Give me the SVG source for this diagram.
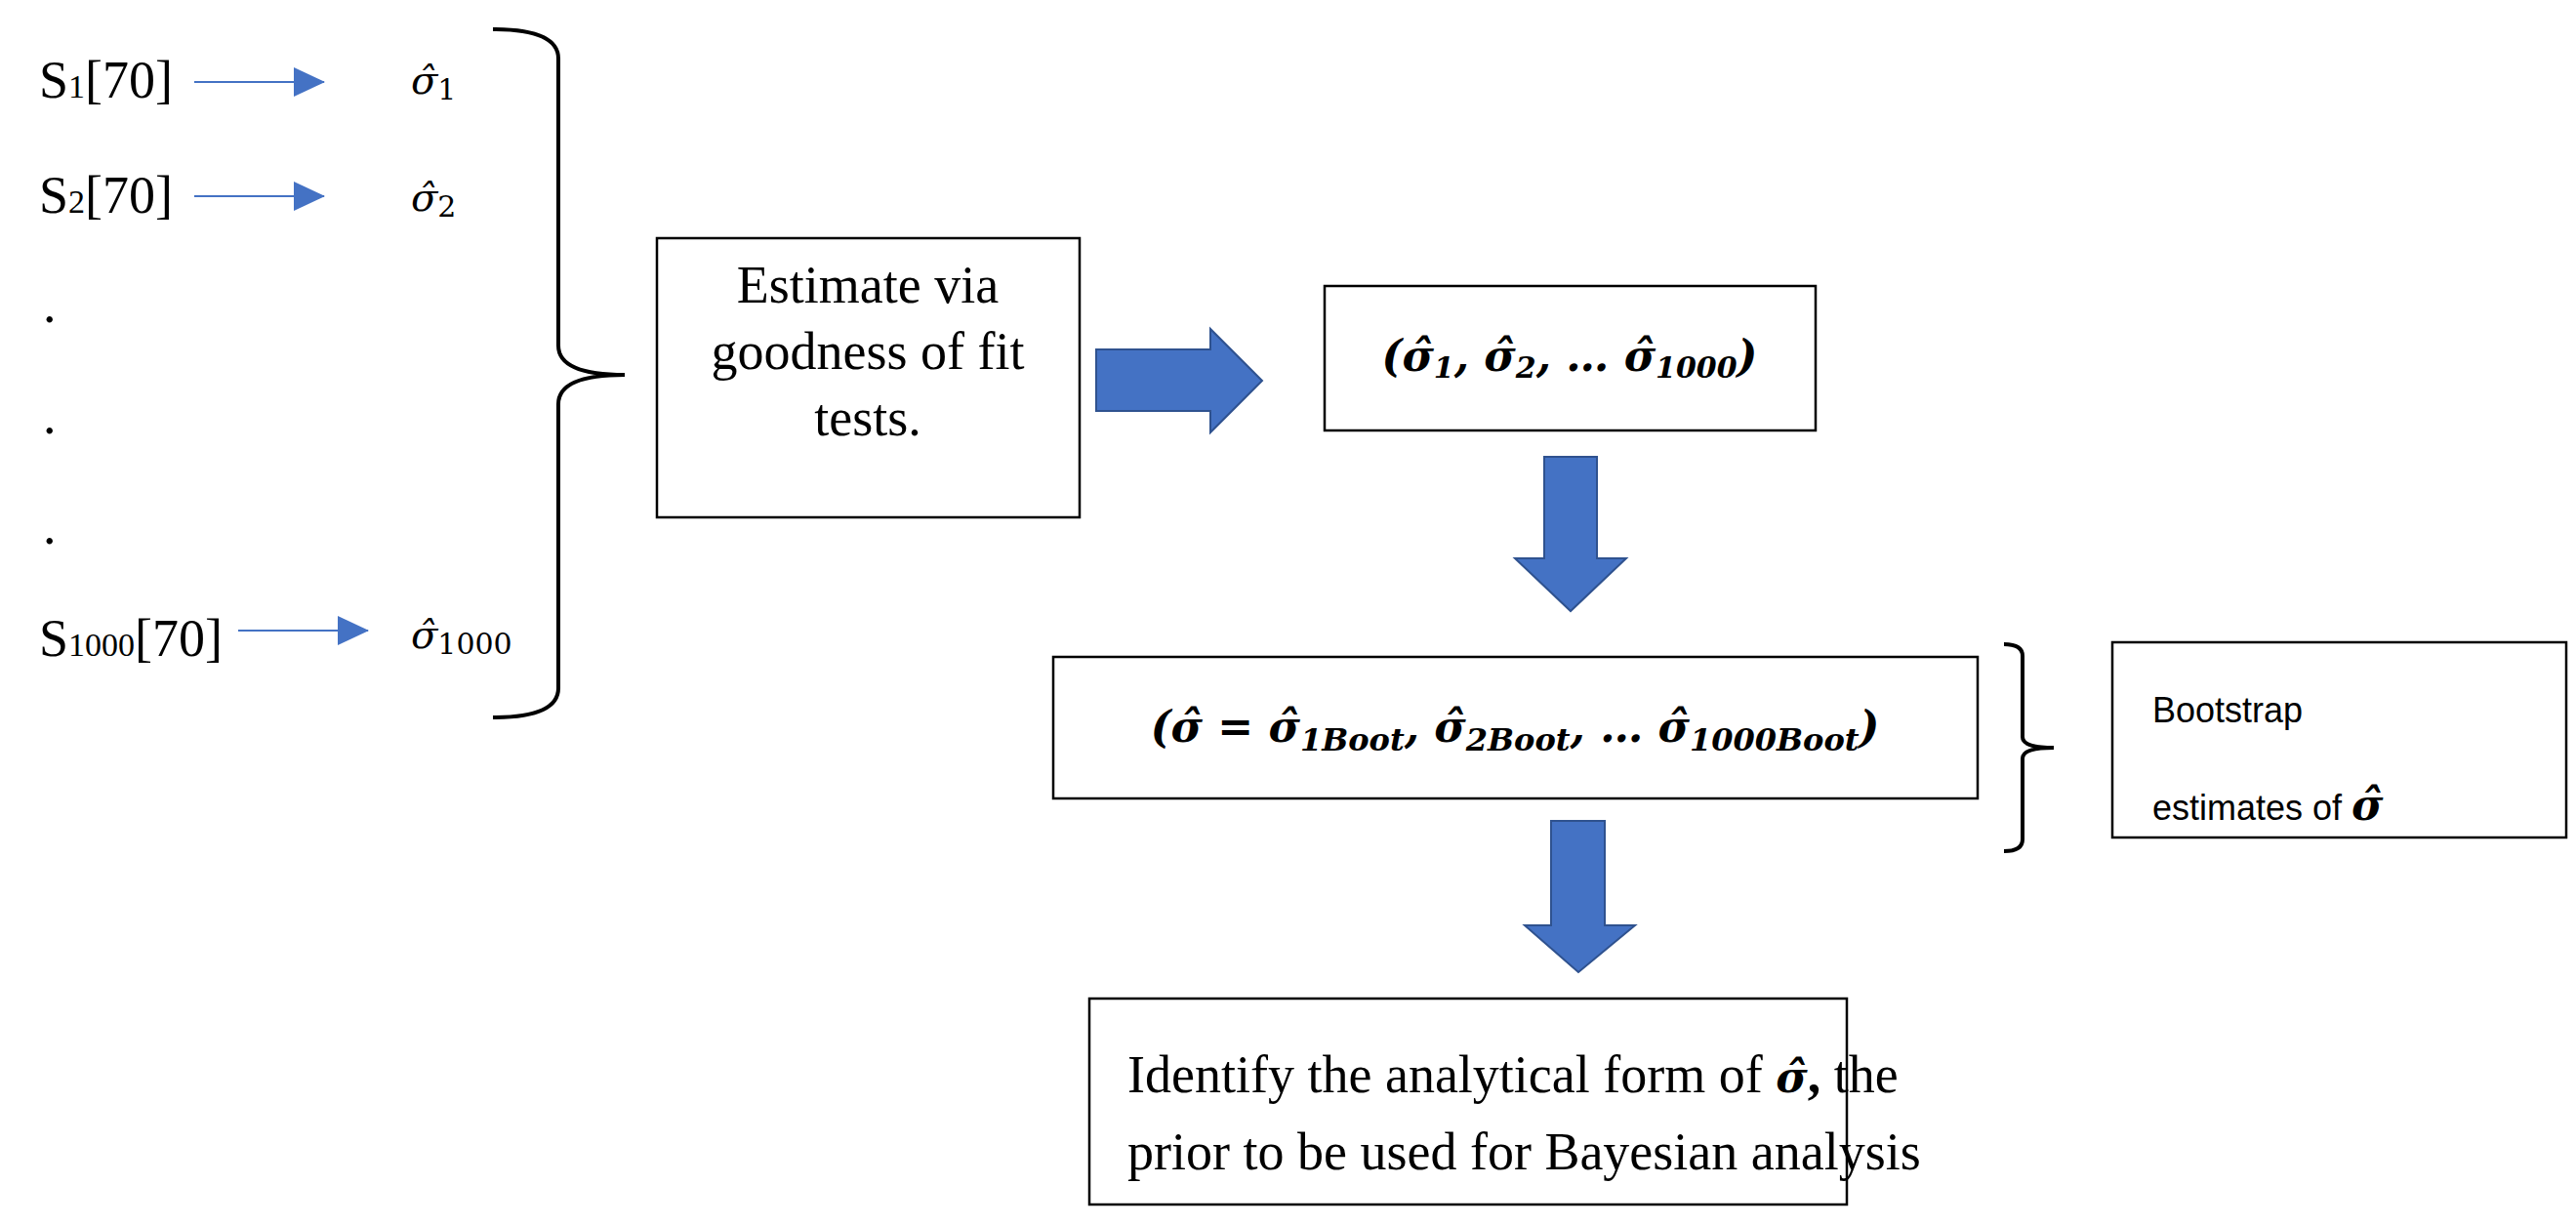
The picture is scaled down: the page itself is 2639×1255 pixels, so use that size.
<svg xmlns="http://www.w3.org/2000/svg" width="2639" height="1255" viewBox="0 0 2639 1255">
<style>
.t{font-family:"Liberation Serif",serif;font-size:54px;fill:#000}
.s{font-family:"Liberation Serif",serif;font-size:34px}
.m{font-family:"DejaVu Serif",serif;font-style:italic;font-size:40px}
.b{font-family:"DejaVu Serif",serif;font-weight:bold;font-style:italic;font-size:44px}
.c{font-family:"Liberation Sans",sans-serif;font-size:36px}
.box{fill:#fff;stroke:#000;stroke-width:2.5}
.fat{fill:#4472C4;stroke:#2F528F;stroke-width:2}
.thin{stroke:#4472C4;stroke-width:2;fill:none}
.br{fill:none;stroke:#000;stroke-width:4}
</style>
<defs><marker id="ah" markerWidth="32" markerHeight="30" refX="31" refY="15" orient="auto" markerUnits="userSpaceOnUse" viewBox="0 0 32 30"><path d="M0,0 L32,15 L0,30 z" fill="#4472C4"/></marker></defs>
<rect width="2639" height="1255" fill="#fff"/>
<g id="inputs">
<text class="t" x="40" y="100">S<tspan class="s">1</tspan>[70]</text>
<text class="t" x="40" y="218">S<tspan class="s">2</tspan>[70]</text>
<text class="t" x="44" y="330">.</text>
<text class="t" x="44" y="444">.</text>
<text class="t" x="44" y="557">.</text>
<text class="t" x="40" y="672">S<tspan class="s">1000</tspan>[70]</text>
<text class="m" x="421" y="96">σ̂<tspan font-style="normal" font-size="30" dy="6">1</tspan></text>
<text class="m" x="421" y="216">σ̂<tspan font-style="normal" font-size="30" dy="6">2</tspan></text>
<text class="m" x="421" y="664">σ̂<tspan font-style="normal" font-size="30" dy="6">1000</tspan></text>
</g>
<g id="connectors">
<line class="thin" x1="199" y1="84" x2="332" y2="84" marker-end="url(#ah)"/>
<line class="thin" x1="199" y1="201" x2="332" y2="201" marker-end="url(#ah)"/>
<line class="thin" x1="244" y1="646" x2="377" y2="646" marker-end="url(#ah)"/>
<path class="br" d="M505,30 Q572,30 572,60 L572,354 Q572,384 640,384 Q572,384 572,414 L572,705 Q572,735 505,735"/>
<path class="br" d="M2053,660 Q2072,660 2072,672 L2072,755 Q2072,766 2104,766 Q2072,766 2072,777 L2072,860 Q2072,872 2053,872"/>
<path class="fat" d="M1123,358 L1240,358 L1240,337 L1293,390 L1240,443 L1240,421 L1123,421 Z"/>
<path class="fat" d="M1582,468 L1636,468 L1636,572 L1666,572 L1609,626 L1552,572 L1582,572 Z"/>
<path class="fat" d="M1589,841 L1644,841 L1644,948 L1675,948 L1617,996 L1562,948 L1589,948 Z"/>
</g>
<g id="estimate">
<rect class="box" x="673" y="244" width="433" height="286"/>
<text class="t" text-anchor="middle" x="889" y="310" font-size="56">Estimate via</text>
<text class="t" text-anchor="middle" x="889" y="378" font-size="56">goodness of fit</text>
<text class="t" text-anchor="middle" x="889" y="446" font-size="56">tests.</text>
</g>
<g id="sigmas">
<rect class="box" x="1357" y="293" width="503" height="148"/>
<text class="b" text-anchor="middle" x="1608" y="380">(σ̂<tspan font-size="30" dy="7">1</tspan><tspan dy="-7">, σ̂</tspan><tspan font-size="30" dy="7">2</tspan><tspan dy="-7">, … σ̂</tspan><tspan font-size="30" dy="7">1000</tspan><tspan dy="-7">)</tspan></text>
</g>
<g id="boot">
<rect class="box" x="1079" y="673" width="947" height="145"/>
<text class="b" text-anchor="middle" x="1552" y="760">(σ̂ = σ̂<tspan font-size="32" dy="9">1Boot</tspan><tspan dy="-9">, σ̂</tspan><tspan font-size="32" dy="9">2Boot</tspan><tspan dy="-9">, … σ̂</tspan><tspan font-size="32" dy="9">1000Boot</tspan><tspan dy="-9">)</tspan></text>
</g>
<g id="bootlabel">
<rect class="box" x="2164" y="658" width="465" height="200"/>
<text class="c" x="2205" y="740">Bootstrap</text>
<text class="c" x="2205" y="840">estimates of <tspan class="b" font-size="40">σ̂</tspan></text>
</g>
<g id="identify">
<rect class="box" x="1116" y="1023" width="776" height="211"/>
<text class="t" x="1155" y="1119" font-size="44">Identify the analytical form of <tspan class="b" font-size="40">σ̂</tspan><tspan font-weight="bold">,</tspan> the</text>
<text class="t" x="1155" y="1198" font-size="44">prior to be used for Bayesian analysis</text>
</g>
</svg>
